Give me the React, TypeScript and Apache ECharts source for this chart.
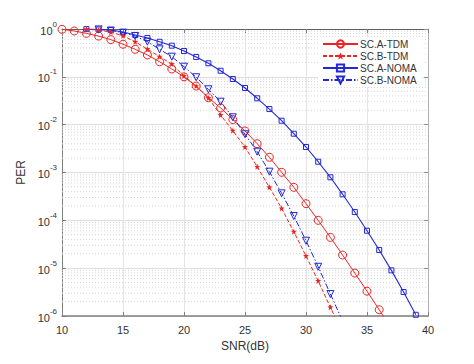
import React, { useEffect, useRef } from "react";
import * as echarts from "echarts";

const seriesNames = ["SC.A-TDM", "SC.B-TDM", "SC.A-NOMA", "SC.B-NOMA"];

const snrATdm = [10, 11, 12, 13, 14, 15, 16, 17, 18, 19, 20, 21, 22, 23, 24, 25, 26, 27, 28, 29, 30, 31, 32, 33, 34, 35, 36, 37];
const perATdm = [0.985, 0.91, 0.81, 0.71, 0.6, 0.48, 0.376, 0.286, 0.207, 0.146, 0.1, 0.064, 0.0366, 0.0224, 0.0128, 0.0074, 0.004, 0.00208, 0.00101, 0.00049, 0.000223, 0.0001, 4.4e-5, 1.88e-5, 7.9e-6, 3.3e-6, 1.35e-6, 5.5e-7];

const snrBTdm = [12, 13, 14, 15, 16, 17, 18, 19, 20, 21, 22, 23, 24, 25, 26, 27, 28, 29, 30, 31, 32, 33];
const perBTdm = [0.99, 0.95, 0.86, 0.72, 0.54, 0.38, 0.264, 0.185, 0.104, 0.064, 0.036, 0.0159, 0.0075, 0.0034, 0.00132, 4.9e-4, 1.78e-4, 5.8e-5, 1.8e-5, 5.4e-6, 1.52e-6, 4.3e-7];

const snrANoma = [12, 13, 14, 15, 16, 17, 18, 19, 20, 21, 22, 23, 24, 25, 26, 27, 28, 29, 30, 31, 32, 33, 34, 35, 36, 37, 38, 39];
const perANoma = [0.995, 0.98, 0.95, 0.865, 0.75, 0.65, 0.54, 0.448, 0.347, 0.26, 0.192, 0.134, 0.09, 0.0584, 0.0356, 0.0212, 0.0121, 0.00647, 0.00341, 0.00168, 7.94e-4, 3.5e-4, 1.49e-4, 6.07e-5, 2.4e-5, 9.0e-6, 3.17e-6, 1.06e-6];

const snrBNoma = [13, 14, 15, 16, 17, 18, 19, 20, 21, 22, 23, 24, 25, 26, 27, 28, 29, 30, 31, 32, 33];
const perBNoma = [0.98, 0.93, 0.84, 0.714, 0.543, 0.376, 0.264, 0.163, 0.098, 0.0549, 0.0302, 0.01426, 0.0063, 0.00272, 0.00104, 3.67e-4, 1.23e-4, 3.75e-5, 1.07e-5, 2.88e-6, 7.8e-7];

const xTicks = { min: 10, max: 40, interval: 5 };
const yMin = 1e-6;
const yMax = 1;
const decadesExp = [-6, -5, -4, -3, -2, -1];
const minorMult = [2, 3, 4, 5, 6, 7, 8, 9];

const RED = "#ec2424";
const BLUE = "#2228d4";
const FONT = "'Liberation Sans', Arial, sans-serif";
const ASTERISK =
  "path://M0,-5 L1.3,-1.8 5,-1.6 2.1,0.7 3.1,4.5 0,2.3 -3.1,4.5 -2.1,0.7 -5,-1.6 -1.3,-1.8 Z";

function pairs(xs: number[], ys: number[]) {
  return xs.map((x, i) => {
    const y = ys[i];
    if (y < yMin) return { value: [x, y], symbol: "none" };
    return { value: [x, y] };
  });
}

export default function App() {
  const ref = useRef<HTMLDivElement>(null);
  useEffect(() => {
    if (!ref.current) return;
    const chart = echarts.init(ref.current, undefined, { renderer: "svg" });
    const minorGridData: any[] = [];
    decadesExp.forEach((e) =>
      minorMult.forEach((m) => {
        const v = m * Math.pow(10, e);
        minorGridData.push([xTicks.min, v], [xTicks.max, v], ["-", "-"]);
      })
    );
    const axisLabelY = {
      formatter: (v: number) => {
        const e = Math.round(Math.log10(v));
        return `{b|10}{s|${e}}`;
      },
      margin: 5,
      rich: {
        b: { fontSize: 11, fontFamily: FONT, color: "#333", lineHeight: 18, verticalAlign: "bottom", padding: [0, 0, 2, 0] },
        s: { fontSize: 8, fontFamily: FONT, color: "#333", lineHeight: 18, verticalAlign: "top" },
      },
    };
    chart.setOption({
      animation: false,
      backgroundColor: "#fff",
      grid: { left: 62, right: 46, top: 29, bottom: 48 },
      legend: {
        orient: "vertical",
        left: 318,
        top: 37,
        itemWidth: 35,
        itemHeight: 9,
        itemGap: 2,
        padding: [2, 6, 2, 4],
        backgroundColor: "#fff",
        data: seriesNames,
        textStyle: { fontSize: 10, fontFamily: FONT, color: "#333", padding: [0, 0, 0, -3] },
      },
      xAxis: [
        {
          type: "value",
          min: xTicks.min,
          max: xTicks.max,
          interval: xTicks.interval,
          name: "SNR(dB)",
          nameLocation: "middle",
          nameGap: 22,
          nameTextStyle: { fontSize: 12, fontFamily: FONT, color: "#333" },
          axisLine: { lineStyle: { color: "#808080", width: 1.5 } },
          axisTick: { inside: true, length: 4, lineStyle: { color: "#808080" } },
          axisLabel: { fontSize: 11, fontFamily: FONT, color: "#333", margin: 8 },
          splitLine: { show: true, lineStyle: { color: "#e4e4e4", width: 1 } },
        },
        {
          type: "value",
          position: "top",
          min: xTicks.min,
          max: xTicks.max,
          interval: xTicks.interval,
          axisLine: { show: true, onZero: false, lineStyle: { color: "#606060", width: 1 } },
          axisTick: { inside: true, length: 4, lineStyle: { color: "#808080" } },
          axisLabel: { show: false },
          splitLine: { show: false },
        },
      ],
      yAxis: [
        {
          type: "log",
          logBase: 10,
          min: yMin,
          max: yMax,
          splitNumber: 6,
          name: "PER",
          nameLocation: "middle",
          nameGap: 30,
          nameTextStyle: { fontSize: 12, fontFamily: FONT, color: "#333" },
          axisLine: { show: true, lineStyle: { color: "#808080", width: 1 } },
          axisTick: { inside: true, length: 4, lineStyle: { color: "#808080" } },
          axisLabel: axisLabelY,
          splitLine: { show: true, lineStyle: { color: "#dedede", width: 1 } },
        },
        {
          type: "log",
          logBase: 10,
          min: yMin,
          max: yMax,
          splitNumber: 6,
          position: "right",
          axisLine: { show: true, lineStyle: { color: "#b0b0b0", width: 1 } },
          axisTick: { inside: true, length: 4, lineStyle: { color: "#909090" } },
          axisLabel: { show: false },
          splitLine: { show: false },
        },
      ],
      series: [
        {
          name: "minor-grid",
          type: "line",
          data: minorGridData,
          z: 1,
          silent: true,
          symbol: "none",
          connectNulls: false,
          lineStyle: { color: "#d6d6d6", type: [1, 2], width: 1 },
          emphasis: { disabled: true },
        },
        {
          name: seriesNames[0],
          type: "line",
          data: pairs(snrATdm, perATdm),
          z: 3,
          symbol: "circle",
          symbolSize: 8,
          lineStyle: { color: RED, width: 1, type: "solid" },
          itemStyle: { color: "rgba(255,255,255,0)", borderColor: RED, borderWidth: 1 },
        },
        {
          name: seriesNames[1],
          type: "line",
          data: pairs(snrBTdm, perBTdm),
          z: 4,
          symbol: ASTERISK,
          symbolSize: 6,
          lineStyle: { color: RED, width: 1, type: [4, 2] },
          itemStyle: { color: RED },
        },
        {
          name: seriesNames[2],
          type: "line",
          data: pairs(snrANoma, perANoma),
          z: 3,
          symbol: "rect",
          symbolSize: 5,
          lineStyle: { color: BLUE, width: 1.1, type: "solid" },
          itemStyle: { color: "rgba(255,255,255,0)", borderColor: BLUE, borderWidth: 1 },
        },
        {
          name: seriesNames[3],
          type: "line",
          data: pairs(snrBNoma, perBNoma),
          z: 3,
          symbol: "triangle",
          symbolRotate: 180,
          symbolSize: 7,
          lineStyle: { color: BLUE, width: 1, type: [6, 2, 1.5, 2] },
          itemStyle: { color: "rgba(255,255,255,0)", borderColor: BLUE, borderWidth: 1 },
        },
      ],
    });
    return () => chart.dispose();
  }, []);
  return <div ref={ref} style={{ width: 474, height: 364, position: "absolute", left: 0, top: 0 }} />;
}
